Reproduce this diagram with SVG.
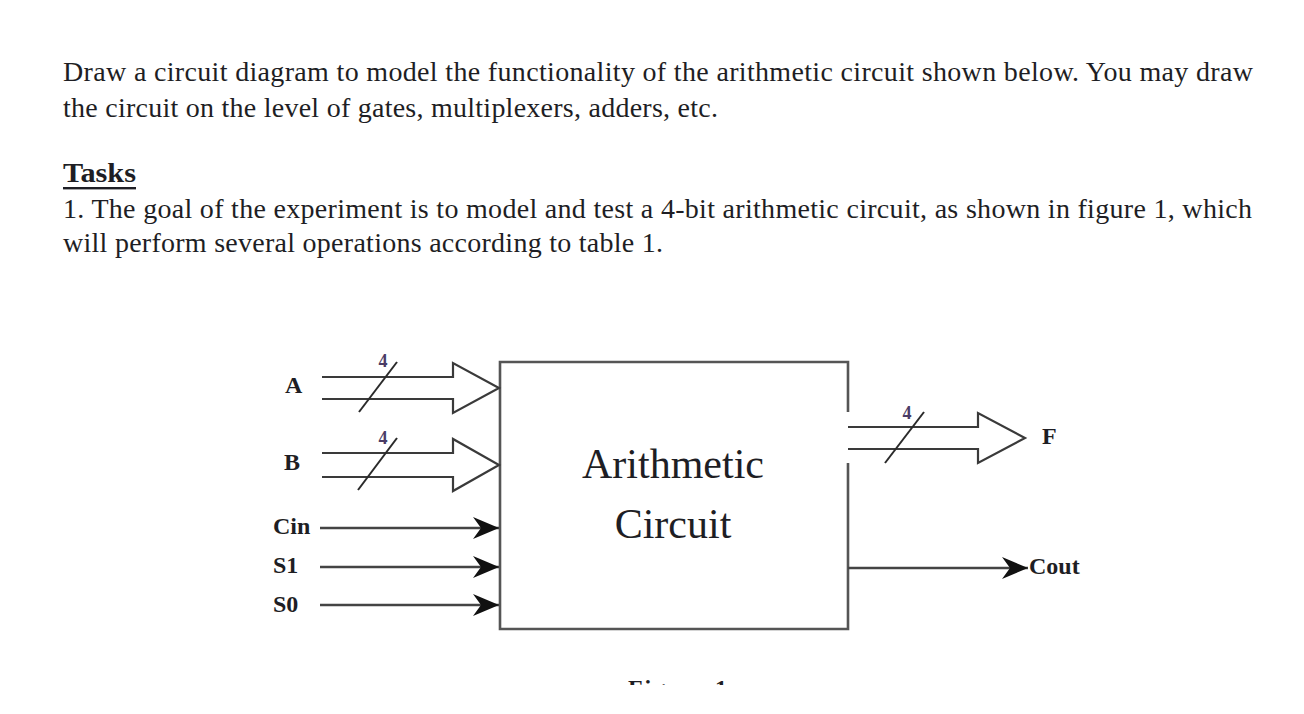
<svg xmlns="http://www.w3.org/2000/svg" width="1304" height="714" viewBox="0 0 1304 714">
<style>
.txt{font-family:"Liberation Serif","Times New Roman",serif;fill:#1e1e24;}
.body{font-size:28px;}
.lbl{font-size:24px;font-weight:bold;}
.num{font-size:18px;font-weight:bold;fill:#4a3c66;font-family:"Liberation Serif",serif;}
.bus{fill:none;stroke:#3a3a3a;stroke-width:2.2;stroke-linejoin:miter;}
.slash{stroke:#2a2a2a;stroke-width:2;}
.wire{stroke:#444;stroke-width:2.4;fill:none;}
.box{fill:none;stroke:#555;stroke-width:2.6;}
</style>
<defs>
<marker id="arr" markerUnits="userSpaceOnUse" markerWidth="26" markerHeight="24" refX="26" refY="12" orient="auto" viewBox="0 0 26 24">
<path d="M0,1 L26,12 L0,23 L8,12 z" fill="#111"/>
</marker>
<clipPath id="capclip"><rect x="0" y="0" width="1304" height="685"/></clipPath>
</defs>
<rect width="1304" height="714" fill="#fff"/>
<g id="text-block">
<text class="txt body" x="63" y="81" textLength="1190" lengthAdjust="spacing">Draw a circuit diagram to model the functionality of the arithmetic circuit shown below. You may draw</text>
<text class="txt body" x="63" y="117" textLength="655" lengthAdjust="spacing">the circuit on the level of gates, multiplexers, adders, etc.</text>
<text class="txt body" x="63" y="182" font-weight="bold" textLength="73" lengthAdjust="spacingAndGlyphs">Tasks</text>
<rect x="63" y="187" width="73" height="2.4" fill="#1e1e24"/>
<text class="txt body" x="63" y="218" textLength="1189" lengthAdjust="spacing">1. The goal of the experiment is to model and test a 4-bit arithmetic circuit, as shown in figure 1, which</text>
<text class="txt body" x="63" y="252" textLength="600" lengthAdjust="spacing">will perform several operations according to table 1.</text>
</g>
<g id="node-arithmetic-circuit">
<path class="box" d="M848,412 V362 H500 V629 H848 V463"/>
<text class="txt" x="673" y="478" font-size="42" text-anchor="middle">Arithmetic</text>
<text class="txt" x="673" y="538" font-size="42" text-anchor="middle">Circuit</text>
</g>
<g id="input-labels">
<text class="txt lbl" x="285" y="393">A</text>
<text class="txt lbl" x="284" y="470">B</text>
<text class="txt lbl" x="273" y="534" font-size="25">Cin</text>
<text class="txt lbl" x="273" y="573" font-size="25">S1</text>
<text class="txt lbl" x="273" y="612" font-size="25">S0</text>
</g>
<g id="output-labels">
<text class="txt lbl" x="1042" y="444" font-size="22">F</text>
<text class="txt lbl" x="1029" y="574" font-size="27">Cout</text>
</g>
<g id="connectors">
<path class="bus" d="M322,377 H453 V363 L499,388 L453,413 V399 H322"/>
<line class="slash" x1="359" y1="412" x2="397" y2="362"/>
<text class="num" x="383" y="367" text-anchor="middle">4</text>
<path class="bus" d="M322,453 H453 V439 L499,465 L453,491 V477 H322"/>
<line class="slash" x1="358" y1="490" x2="397" y2="438"/>
<text class="num" x="383" y="444" text-anchor="middle">4</text>
<path class="bus" d="M848,427 H978 V413 L1025,438 L978,463 V449 H848"/>
<line class="slash" x1="885" y1="463" x2="924" y2="412"/>
<text class="num" x="907" y="419" text-anchor="middle">4</text>
<line class="wire" x1="320" y1="528" x2="499" y2="528" marker-end="url(#arr)"/>
<line class="wire" x1="320" y1="567" x2="499" y2="567" marker-end="url(#arr)"/>
<line class="wire" x1="320" y1="605" x2="499" y2="605" marker-end="url(#arr)"/>
<line class="wire" x1="848" y1="568" x2="1028" y2="568" marker-end="url(#arr)"/>
</g>
<g id="caption" clip-path="url(#capclip)">
<text class="txt" x="628" y="696" font-size="24" font-weight="bold" textLength="99" lengthAdjust="spacing">Figure 1</text>
</g>
</svg>
